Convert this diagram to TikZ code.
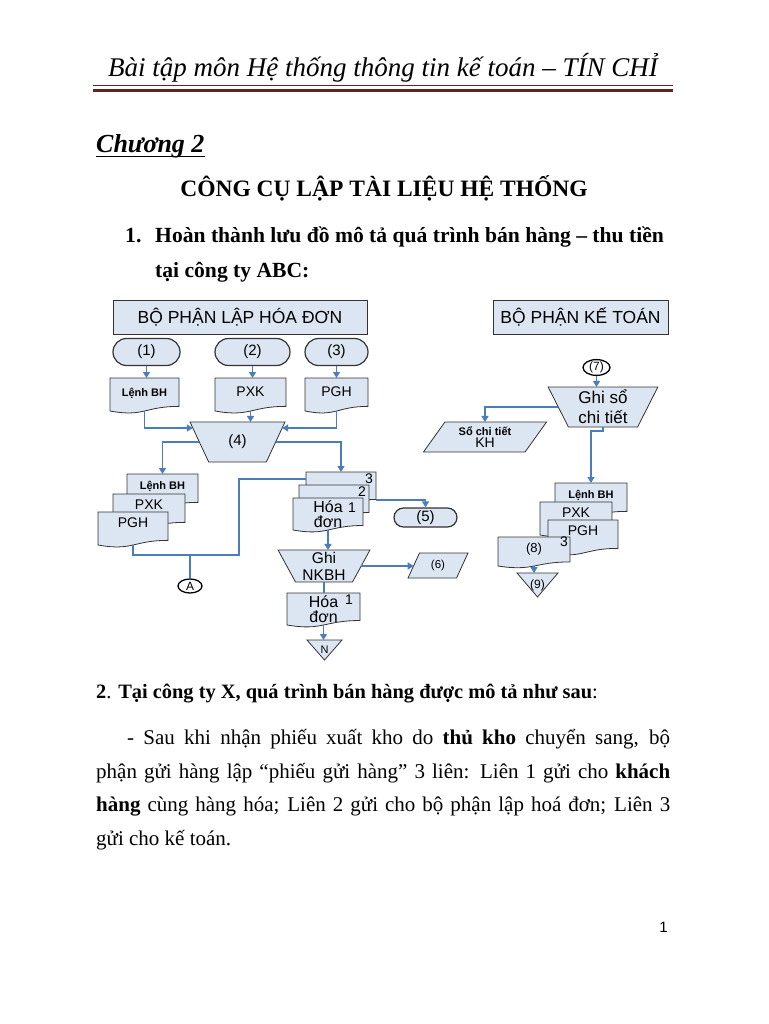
\documentclass[tikz,border=0pt]{standalone}
\usepackage{fontspec}
\setmainfont{Liberation Serif}
\newfontfamily\arialfont{Liberation Sans}
\usetikzlibrary{shapes.geometric,shapes.misc,calc,arrows.meta}

\definecolor{khungnen}{HTML}{DCE6F2}
\definecolor{khungvien}{HTML}{333333}
\definecolor{duongxanh}{HTML}{4A7EBB}
\definecolor{vachdo}{HTML}{622423}

\newcommand{\cochu}[2]{\arialfont\fontsize{#1}{#2}\selectfont}
\newcommand{\thanbai}{\fontsize{21}{25}\selectfont}

% chung tu: canh duoi luon song
\makeatletter
\newdimen\docL \newdimen\docR \newdimen\docT \newdimen\docB \newdimen\docM \newdimen\docH
\pgfdeclareshape{wavydoc}{
  \inheritsavedanchors[from=rectangle]
  \inheritanchorborder[from=rectangle]
  \inheritanchor[from=rectangle]{center}
  \inheritanchor[from=rectangle]{text}
  \inheritanchor[from=rectangle]{base}
  \inheritanchor[from=rectangle]{north}
  \inheritanchor[from=rectangle]{south}
  \inheritanchor[from=rectangle]{east}
  \inheritanchor[from=rectangle]{west}
  \inheritanchor[from=rectangle]{north east}
  \inheritanchor[from=rectangle]{north west}
  \inheritanchor[from=rectangle]{south east}
  \inheritanchor[from=rectangle]{south west}
  \backgroundpath{
    \southwest \docL=\pgf@x \docB=\pgf@y
    \northeast \docR=\pgf@x \docT=\pgf@y
    \docM=.5\docL \advance\docM by .5\docR
    \docH=\docT \advance\docH by -\docB
    \pgfpathmoveto{\pgfqpoint{\docL}{\docT}}
    \pgfpathlineto{\pgfqpoint{\docR}{\docT}}
    \pgfpathlineto{\pgfpointadd{\pgfqpoint{\docR}{\docT}}{\pgfqpoint{0pt}{-.86\docH}}}
    \pgfpathcurveto
      {\pgfpointadd{\pgfqpoint{\docM}{\docT}}{\pgfqpoint{0pt}{-.86\docH}}}
      {\pgfpointadd{\pgfqpoint{\docM}{\docT}}{\pgfqpoint{0pt}{-1.19\docH}}}
      {\pgfqpoint{\docL}{\docB}}
    \pgfpathclose
  }
}
% tam giac luu tru
\pgfdeclareshape{mergetri}{
  \inheritsavedanchors[from=rectangle]
  \inheritanchorborder[from=rectangle]
  \inheritanchor[from=rectangle]{center}
  \inheritanchor[from=rectangle]{text}
  \inheritanchor[from=rectangle]{base}
  \inheritanchor[from=rectangle]{north}
  \inheritanchor[from=rectangle]{south}
  \inheritanchor[from=rectangle]{east}
  \inheritanchor[from=rectangle]{west}
  \backgroundpath{
    \southwest \docL=\pgf@x \docB=\pgf@y
    \northeast \docR=\pgf@x \docT=\pgf@y
    \docM=.5\docL \advance\docM by .5\docR
    \pgfpathmoveto{\pgfqpoint{\docL}{\docT}}
    \pgfpathlineto{\pgfqpoint{\docR}{\docT}}
    \pgfpathlineto{\pgfqpoint{\docM}{\docB}}
    \pgfpathclose
  }
}
\makeatother

\tikzset{
  bophan/.style={draw=khungvien, fill=khungnen, line width=0.8pt, inner sep=0pt, font=\cochu{17.5}{20}},
  diemdau/.style={rounded rectangle, draw=khungvien, fill=khungnen, line width=1.2pt, minimum height=27pt, inner sep=0pt, font=\cochu{15}{18}},
  chungtu/.style={shape=wavydoc, draw=khungvien, fill=khungnen, line width=0.8pt, outer sep=0pt, inner xsep=0pt, inner ysep=0pt, align=center, anchor=north},
  motdong/.style={chungtu, text height=15pt, text depth=18pt, font=\cochu{14}{16}},
  hangtren/.style={motdong, text height=18pt, text depth=15pt},
  thucong/.style={trapezium, trapezium left angle=113, trapezium right angle=113, trapezium stretches=true, draw=khungvien, fill=khungnen, line width=0.8pt, inner sep=0pt, outer sep=0pt, align=center},
  dulieu/.style={trapezium, trapezium stretches=true, draw=khungvien, fill=khungnen, line width=0.8pt, inner sep=0pt, outer sep=0pt, align=center},
  noitrang/.style={ellipse, draw=black, line width=1.3pt, fill=white, inner sep=0pt},
  luutru/.style={shape=mergetri, draw=khungvien, fill=khungnen, line width=0.8pt, inner sep=0pt, outer sep=0pt},
  luong/.style={->, draw=duongxanh, line width=1.3pt},
  noi/.style={draw=duongxanh, line width=1.3pt},
  >={Triangle[width=7pt,length=6pt]},
}

\begin{document}
\begin{tikzpicture}[x=1pt, y=-1pt]
\useasboundingbox[fill=white] (0,0) rectangle (768,1024);

% tieu de trang
\node[anchor=base west, inner sep=0pt, font=\fontsize{27}{31}\selectfont\itshape] (tieude) at (108,77) {Bài tập môn Hệ thống thông tin kế toán – TÍN CHỈ};
\draw[vachdo, line width=1pt] (93,86) -- (673,86); % vach mong
\draw[vachdo, line width=3.5pt] (93,90.5) -- (673,90.5); % vach day

\node[anchor=base west, inner sep=0pt, font=\fontsize{26}{30}\selectfont\bfseries\itshape] (chuong) at (96,153) {Chương 2};
\draw[line width=1.2pt] ([yshift=-3.5pt]chuong.base west) -- ([yshift=-3.5pt]chuong.base east);
\node[anchor=base, inner sep=0pt, font=\fontsize{23.5}{27}\selectfont\bfseries] (congcu) at (384,197) {CÔNG CỤ LẬP TÀI LIỆU HỆ THỐNG};
\node[anchor=base west, inner sep=0pt, font=\fontsize{21.6}{25}\selectfont\bfseries] (so1) at (125,243) {1.};
\node[anchor=base west, inner sep=0pt, font=\fontsize{21.6}{25}\selectfont\bfseries] (cau1a) at (155,243) {Hoàn thành lưu đồ mô tả quá trình bán hàng – thu tiền};
\node[anchor=base west, inner sep=0pt, font=\fontsize{21.6}{25}\selectfont\bfseries] (cau1b) at (155,277) {tại công ty ABC:};

% bo phan lap hoa don
\node[bophan, minimum width=254pt, minimum height=34pt] (lhd) at (240,317) {BỘ PHẬN LẬP HÓA ĐƠN};
\node[diemdau, minimum width=67pt] (d1) at (146.5,352) {(1)};
\node[diemdau, minimum width=75pt] (d2) at (252.5,352) {(2)};
\node[diemdau, minimum width=63pt] (d3) at (336.5,352) {(3)};
\node[hangtren, minimum width=69pt, font=\cochu{11}{13}\bfseries] (lenh) at (144.5,378) {Lệnh BH};
\node[hangtren, minimum width=71pt] (pxk) at (250.5,378) {PXK};
\node[hangtren, minimum width=63pt] (pgh) at (336.5,378) {PGH};
\draw[luong] (d1.south) -- (d1.south |- lenh.north);
\draw[luong] (d2.south) -- (d2.south |- pxk.north);
\draw[luong] (d3.south) -- (d3.south |- pgh.north);

\node[thucong, minimum width=95pt, minimum height=40pt, font=\cochu{15}{18}] (b4) at (237.5,442) {(4)};
\draw[luong] (lenh.south) |- ($(b4.top left corner)!0.15!(b4.bottom left corner)$);
\draw[luong] (pxk.south) -- (pxk.south |- b4.north);
\draw[luong] (pgh.south) |- ($(b4.top right corner)!0.15!(b4.bottom right corner)$);

% bo chung tu luu
\node[motdong, minimum width=71pt, font=\cochu{11}{13}\bfseries] (lenh2) at (162.5,474) {Lệnh BH};
\node[motdong, minimum width=72pt] (pxk2) at (149,494) {PXK};
\node[motdong, minimum width=70pt] (pgh2) at (133,512) {PGH};
\draw[luong] (b4.west) -| (lenh2.north);

% hoa don 3 lien
\node[chungtu, minimum width=70pt, minimum height=32pt] (hd3) at (341,472) {};
\node[anchor=center, font=\cochu{14}{16}] (so3) at ([xshift=-7pt,yshift=-7pt]hd3.north east) {3};
\node[chungtu, minimum width=70pt, minimum height=32pt] (hd2) at (334,485) {};
\node[anchor=center, font=\cochu{14}{16}] (so2) at ([xshift=-7pt,yshift=-7pt]hd2.north east) {2};
\node[chungtu, minimum width=70pt, minimum height=32pt, font=\cochu{16}{15}] (hd1) at (328,498) {Hóa\\đơn};
\node[anchor=center, font=\cochu{14}{16}] (so1b) at ([xshift=-11pt,yshift=-10pt]hd1.north east) {1};
\draw[luong] (b4.east) -| (hd3.north);

\coordinate (nA) at (190,555);
\coordinate (nB) at (239,555);
\draw[noi] (pgh2.south) |- (nA) -- (nB) |- ([yshift=-7pt]hd3.north west);
\node[noitrang, minimum width=24pt, minimum height=14pt, font=\cochu{12}{14}] (A) at (190,586) {A};
\draw[noi] (nA) -- (A.north);

\node[diemdau, minimum width=63pt, minimum height=19pt] (t5) at (425.5,517.5) {(5)};
\draw[luong] ([yshift=4pt]hd3.south east) -| (t5.north);

% ghi nhat ky ban hang
\node[thucong, trapezium left angle=115, trapezium right angle=115, minimum width=92pt, minimum height=32pt, font=\cochu{15.5}{17}] (gnk) at (324,566) {Ghi\\NKBH};
\draw[luong] (hd1.south) -- (hd1.south |- gnk.north);
\node[dulieu, trapezium left angle=68, trapezium right angle=112, minimum width=60pt, minimum height=25pt, font=\cochu{11.5}{13}] (p6) at (438,565.5) {(6)};
\draw[luong] (gnk.east) -- (gnk.east -| p6.west);
\node[chungtu, minimum width=73pt, minimum height=32pt, font=\cochu{16}{15}] (hd4) at (323.5,593) {Hóa\\đơn};
\node[anchor=center, font=\cochu{14}{16}] (so1c) at ([xshift=-11pt,yshift=-7pt]hd4.north east) {1};
\draw[noi] (gnk.south) -- (gnk.south |- hd4.north);
\node[luutru, minimum width=35pt, minimum height=20pt, font=\cochu{11}{13}] (N) at (324.5,650) {N};
\draw[luong] (hd4.south) -- (hd4.south |- N.north);

% bo phan ke toan
\node[bophan, minimum width=175pt, minimum height=34pt] (kt) at (580.5,317) {BỘ PHẬN KẾ TOÁN};
\node[noitrang, minimum width=27pt, minimum height=15pt, font=\cochu{12}{14}] (e7) at (596.5,367.5) {(7)};
\node[thucong, minimum width=110pt, minimum height=40pt, font=\cochu{17}{20}] (gs) at (603,407) {Ghi sổ\\chi tiết};
\draw[luong] (e7.south) -- (e7.south |- gs.north);
\node[dulieu, trapezium left angle=56, trapezium right angle=124, minimum width=124pt, minimum height=30pt] (skh) at (485,437) {\cochu{11}{13}\bfseries Sổ chi tiết\\\cochu{14}{15}KH};
\draw[luong] (gs.west) -| (skh.center |- skh.north);

\node[motdong, minimum width=72pt, font=\cochu{11}{13}\bfseries] (lenh3) at (591,483) {Lệnh BH};
\node[motdong, minimum width=72pt] (pxk3) at (576,502) {PXK};
\node[motdong, minimum width=70pt] (pgh3) at (583,520) {PGH};
\node[motdong, minimum width=72pt, text depth=14pt, font=\cochu{13}{15}] (d8) at (534,537) {(8)};
\node[anchor=center, font=\cochu{14}{16}] (so3b) at (564,542) {3};
\draw[luong] (gs.south) -- ++(0,4) -| (lenh3.north);
\node[luutru, minimum width=41pt, minimum height=24pt, font=\cochu{12}{14}] (t9) at (537.5,585) {(9)};
\draw[luong] (d8.south) -- (d8.south |- t9.north);

% cau 2
\node[anchor=base west, inner sep=0pt, font=\fontsize{20.4}{25}\selectfont] (cau2) at (96,698) {\textbf{2}. \textbf{Tại công ty X, quá trình bán hàng được mô tả như sau}:};
\node[anchor=base west, inner sep=0pt, font=\thanbai] (dong1) at (127,744) {\makebox[543pt][s]{- Sau khi nhận phiếu xuất kho do \textbf{thủ kho} chuyển sang, bộ}};
\node[anchor=base west, inner sep=0pt, font=\thanbai] (dong2) at (96,778) {\makebox[574pt][s]{phận gửi hàng lập “phiếu gửi hàng” 3 liên: Liên 1 gửi cho \textbf{khách}}};
\node[anchor=base west, inner sep=0pt, font=\thanbai] (dong3) at (96,811) {\makebox[574pt][s]{\textbf{hàng} cùng hàng hóa; Liên 2 gửi cho bộ phận lập hoá đơn; Liên 3}};
\node[anchor=base west, inner sep=0pt, font=\thanbai] (dong4) at (96,845) {gửi cho kế toán.};

\node[anchor=base east, inner sep=0pt, font=\cochu{15}{18}] (trang) at (668,932) {1};
\end{tikzpicture}
\end{document}
